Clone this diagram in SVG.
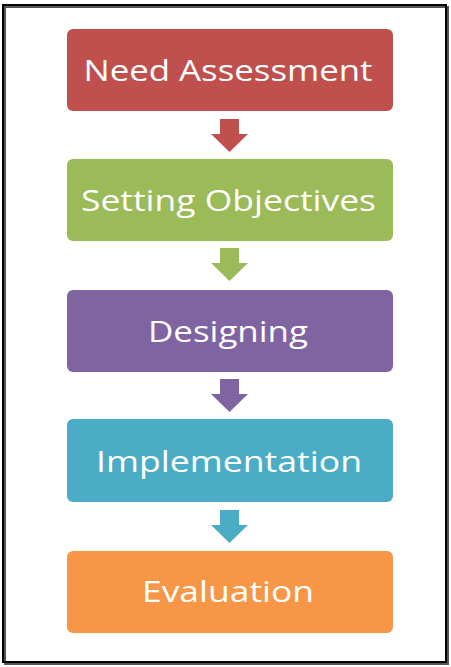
<svg xmlns="http://www.w3.org/2000/svg" width="451" height="667" viewBox="0 0 451 667">
<style>
.lbl{font-family:"Open Sans","Noto Sans",sans-serif;font-size:29px;fill:#ffffff;text-anchor:middle}
.frame{fill:none;stroke:#000;stroke-width:2}
</style>
<rect x="0" y="0" width="451" height="667" fill="#ffffff"/>
<rect x="5" y="7" width="443" height="657" fill="none" stroke="#555" stroke-width="2"/>
<rect class="frame" x="3" y="5" width="443" height="657"/>
<g id="connectors">
<polygon fill="#C0504D" points="220,119 239,119 239,134 248,134 229.5,152 211,134 220,134"/>
<polygon fill="#9BBB59" points="220,248 239,248 239,263 248,263 229.5,281 211,263 220,263"/>
<polygon fill="#8064A2" points="220,379 239,379 239,394 248,394 229.5,412 211,394 220,394"/>
<polygon fill="#4BACC6" points="220,510 239,510 239,525 248,525 229.5,543 211,525 220,525"/>
</g>
<g id="n1"><rect x="67" y="29" width="326" height="82" rx="6" fill="#C0504D"/><text class="lbl" x="228" y="81" textLength="289" lengthAdjust="spacingAndGlyphs">Need Assessment</text></g>
<g id="n2"><rect x="67" y="159" width="326" height="82" rx="6" fill="#9BBB59"/><text class="lbl" x="228.5" y="211" textLength="295" lengthAdjust="spacingAndGlyphs">Setting Objectives</text></g>
<g id="n3"><rect x="67" y="290" width="326" height="82" rx="6" fill="#8064A2"/><text class="lbl" x="228" y="342" textLength="160" lengthAdjust="spacingAndGlyphs">Designing</text></g>
<g id="n4"><rect x="67" y="419" width="326" height="83" rx="6" fill="#4BACC6"/><text class="lbl" x="229" y="472" textLength="266" lengthAdjust="spacingAndGlyphs">Implementation</text></g>
<g id="n5"><rect x="67" y="551" width="326" height="82" rx="6" fill="#F79646"/><text class="lbl" x="228" y="602" textLength="172" lengthAdjust="spacingAndGlyphs">Evaluation</text></g>
</svg>
